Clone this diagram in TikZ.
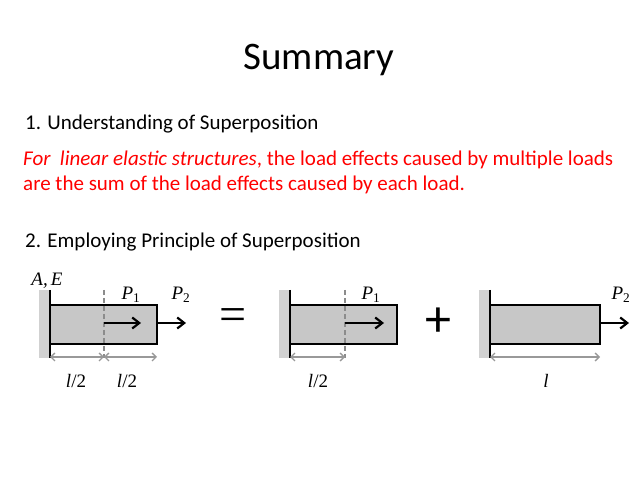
\documentclass[tikz,border=0pt]{standalone}
\usepackage{fontspec}
\setmainfont{Carlito}
\newfontfamily\tms{Liberation Serif}
\usetikzlibrary{patterns,arrows.meta}
\begin{document}
\begin{tikzpicture}[x=1pt,y=-1pt,
  beam/.style={draw=black,fill=black!22,line width=1.2pt},
  wallhatch/.style={fill=black!18,draw=none},
  wallline/.style={line width=2.5pt},
  cut/.style={draw=black!45,dash pattern=on 5pt off 3pt,line width=2pt},
  load/.style={-{Straight Barb[length=7pt,width=11pt]},line width=2.2pt},
  dim/.style={{Straight Barb[length=4pt,width=8pt]}-{Straight Barb[length=4pt,width=8pt]},draw=black!40,line width=1.3pt},
  lab/.style={font=\tms\itshape\fontsize{19}{19}\selectfont,inner sep=0pt},
  txt/.style={anchor=west,inner sep=0pt,font=\fontsize{21}{24}\selectfont}]
\useasboundingbox (0,0) rectangle (638,478);
\node[font=\fontsize{39}{44}\selectfont] (title) at (319,60) {Summary};
\node[txt] (l1) at (25,124) {1. Understanding of Superposition};
\node[txt,text=red] (r1) at (23,160) {\textit{For\ \ linear elastic structures}, the load effects caused by multiple loads};
\node[txt,text=red] (r2) at (23,185) {are the sum of the load effects caused by each load.};
\node[txt] (l2) at (25,242) {2. Employing Principle of Superposition};
% fig 1
\fill[wallhatch] (39,290) rectangle (50,358);
\draw[beam] (50,305) rectangle (157,344);
\draw[wallline] (50,290) -- (50,358);
\draw[cut] (104,290) -- (104,358);
\coordinate (a1s) at (104,323); \coordinate (a1e) at (141,323);
\draw[load] (a1s) -- (a1e);
\coordinate (a2s) at (157,323); \coordinate (a2e) at (186,323);
\draw[load] (a2s) -- (a2e);
\coordinate (d1) at (50,357); \coordinate (d2) at (104,357); \coordinate (d3) at (157,357);
\draw[dim] (d1) -- (d2); \draw[dim] (d2) -- (d3);
\node[lab] (ae) at (47,281) {A,\,E};
\node[lab] (p1a) at (131,295) {P\textsubscript{\upshape 1}};
\node[lab] (p2a) at (181,295) {P\textsubscript{\upshape 2}};
\node[lab] (la) at (76,381) {l\upshape/2};
\node[lab] (lb) at (127,381) {l\upshape/2};
\node[font=\tms\fontsize{48}{48}\selectfont] (eq) at (233,320) {=};
% fig 2
\fill[wallhatch] (279,290) rectangle (290,358);
\draw[beam] (290,305) rectangle (397,344);
\draw[wallline] (290,290) -- (290,358);
\draw[cut] (345,290) -- (345,358);
\coordinate (b1s) at (345,323); \coordinate (b1e) at (384,323);
\draw[load] (b1s) -- (b1e);
\coordinate (e1) at (290,357); \coordinate (e2) at (345,357);
\draw[dim] (e1) -- (e2);
\node[lab] (p1b) at (371,295) {P\textsubscript{\upshape 1}};
\node[lab] (lc) at (318,381) {l\upshape/2};
\node[font=\fontsize{52}{52}\selectfont] (plus) at (438,322) {+};
% fig 3
\fill[wallhatch] (479,290) rectangle (490,358);
\draw[beam] (490,305) rectangle (600,344);
\draw[wallline] (490,290) -- (490,358);
\coordinate (c1s) at (600,323); \coordinate (c1e) at (629,323);
\draw[load] (c1s) -- (c1e);
\coordinate (f1) at (490,357); \coordinate (f2) at (600,357);
\draw[dim] (f1) -- (f2);
\node[lab] (p2c) at (621,295) {P\textsubscript{\upshape 2}};
\node[lab] (ld) at (546,381) {l};
\end{tikzpicture}
\end{document}
